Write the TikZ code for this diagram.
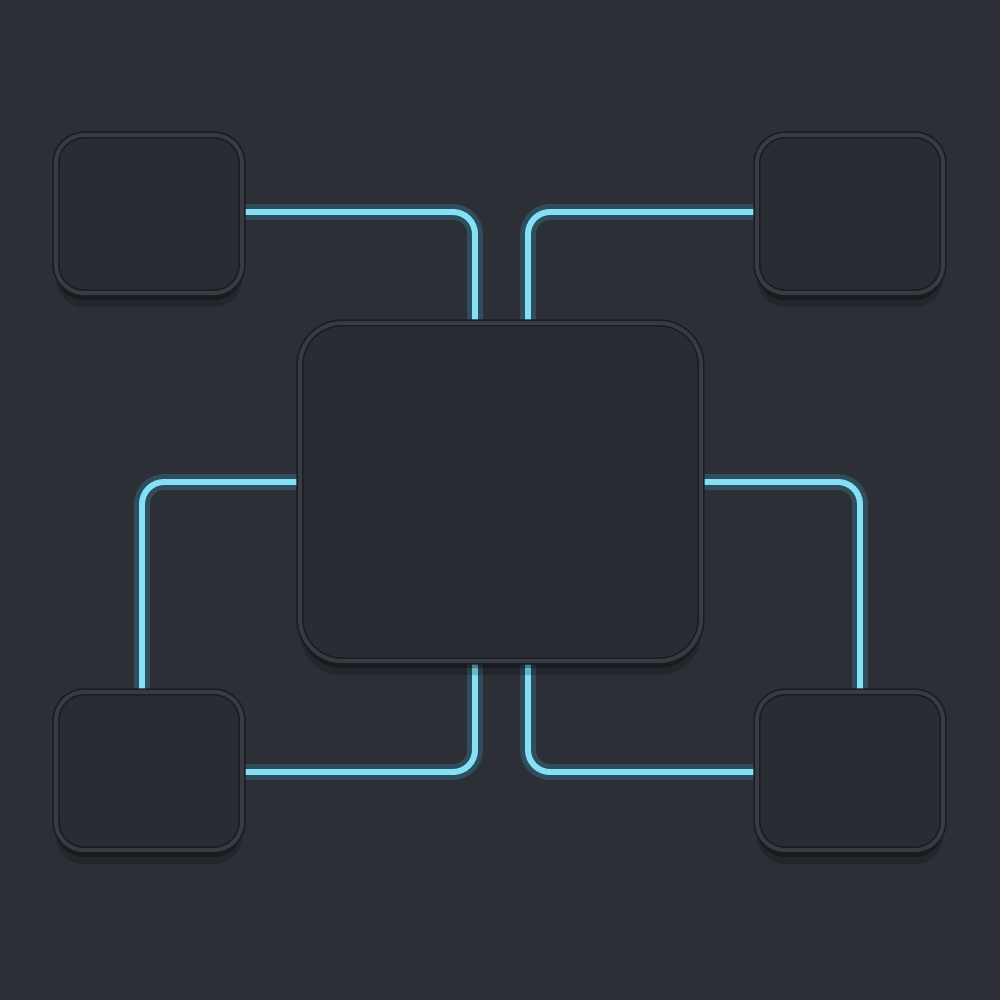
\documentclass[tikz,border=0pt]{standalone}
\usetikzlibrary{calc}

\definecolor{sfondo}{RGB}{44,47,54}
\definecolor{riempi}{RGB}{42,44,51}
\definecolor{bordo}{RGB}{27,29,34}
\definecolor{anello}{RGB}{56,59,67}
\definecolor{ciano}{RGB}{132,224,244}
\definecolor{alone}{RGB}{56,170,212}

\pgfdeclarelayer{fondo}
\pgfdeclarelayer{cavi}
\pgfsetlayers{fondo,cavi,main}

\begin{document}
\begin{tikzpicture}[x=0.1mm,y=-0.1mm,
blocco/.style={rectangle,rounded corners=2.8mm,fill=riempi,draw=bordo,line width=0.5pt,
  double=anello,double distance=1.1pt,minimum width=18.6mm,minimum height=15.8mm,
  preaction={fill=black,opacity=0.18,transform canvas={yshift=-4pt}},
  preaction={fill=black,opacity=0.3,transform canvas={yshift=-2pt}}},
centrale/.style={blocco,rounded corners=4.2mm,minimum width=40.1mm,minimum height=33.8mm},
cavo/.style={draw=ciano,line width=1.7pt,rounded corners=2.2mm,
  preaction={draw=alone,line width=4.5pt,opacity=0.25}}
]
%--
\begin{pgfonlayer}{fondo}
\fill[sfondo] (0,0) rectangle (1000,1000);
\end{pgfonlayer}
%--
\node[centrale] (hub) at (500.5,492) {};
\node[blocco] (as) at (149,214) {};
\node[blocco] (ad) at (850,214) {};
\node[blocco] (bs) at (149,771) {};
\node[blocco] (bd) at (850,771) {};
%--
\begin{pgfonlayer}{cavi}
\draw[cavo] ($(as.east)+(-10,-2)$) -| ($(hub.north)+(-25.5,10)$);
\draw[cavo] ($(ad.west)+(10,-2)$) -| ($(hub.north)+(27.5,10)$);
\draw[cavo] ($(hub.west)+(10,-10)$) -| ($(bs.north)+(-7,10)$);
\draw[cavo] ($(hub.east)+(-10,-10)$) -| ($(bd.north)+(10,10)$);
\draw[cavo] ($(hub.south)+(-25.5,-10)$) |- ($(bs.east)+(-10,1)$);
\draw[cavo] ($(hub.south)+(27.5,-10)$) |- ($(bd.west)+(10,1)$);
\end{pgfonlayer}
\end{tikzpicture}
\end{document}
